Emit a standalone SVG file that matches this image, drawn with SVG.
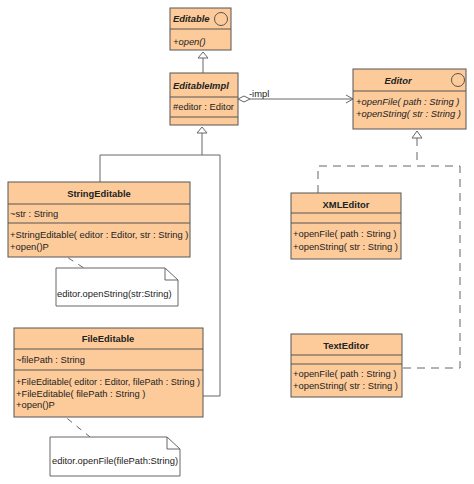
<svg xmlns="http://www.w3.org/2000/svg" width="474" height="484" viewBox="0 0 474 484">
<style>
.box{fill:#FDCB9A;stroke:#555;stroke-width:1}
.div{stroke:#555;stroke-width:1}
.t{font-family:"Liberation Sans",Arial,sans-serif;font-size:9.4px;fill:#222}
.b{font-weight:bold}
.i{font-style:italic}
.c{text-anchor:middle}
.ln{fill:none;stroke:#666;stroke-width:1}
.dl{fill:none;stroke:#666;stroke-width:1;stroke-dasharray:8,6}
.nd{fill:none;stroke:#666;stroke-width:1;stroke-dasharray:6,6}
.note{fill:#fff;stroke:#666;stroke-width:1}
.tri{fill:#fff;stroke:#666;stroke-width:1}
</style>
<rect width="474" height="484" fill="#fff"/>
<g id="connectors">
<polygon class="tri" points="203,52 198,58 208,58"/>
<line class="ln" x1="203" y1="58" x2="203" y2="73"/>
<polygon class="tri" points="202,127 197,133 207,133"/>
<polyline class="ln" points="202,133 202,155"/>
<polyline class="ln" points="100,182 100,155 220,155 220,396 203,396"/>
<polygon class="tri" points="238,99 244,96 250,99 244,102"/>
<line class="ln" x1="250" y1="99" x2="353" y2="99"/>
<polyline class="ln" points="346,95 353,99 346,103"/>
<text class="t" x="249" y="97">-impl</text>
<polygon class="tri" points="417,131 412,138 422,138"/>
<polyline class="dl" points="417,138 417,166"/>
<polyline class="dl" points="318,193 318,166 460,166 460,368 402,368"/>
<line class="nd" x1="48" y1="245" x2="84" y2="268"/>
<line class="nd" x1="58" y1="411" x2="90" y2="437"/>
</g>
<g id="Editable">
<rect class="box" x="170" y="8" width="61" height="42"/>
<line class="div" x1="170" y1="29" x2="231" y2="29"/>
<text class="t b i" x="173" y="22">Editable</text>
<circle cx="221" cy="19" r="6.5" fill="none" stroke="#555"/>
<text class="t i" x="173" y="45">+open()</text>
</g>
<g id="EditableImpl">
<rect class="box" x="170" y="73" width="68" height="52"/>
<line class="div" x1="170" y1="97" x2="238" y2="97"/>
<line class="div" x1="170" y1="117" x2="238" y2="117"/>
<text class="t b i" x="173" y="89">EditableImpl</text>
<text class="t" x="173" y="110">#editor : Editor</text>
</g>
<g id="Editor">
<rect class="box" x="353" y="69" width="113" height="60"/>
<line class="div" x1="353" y1="91" x2="466" y2="91"/>
<text class="t b i c" x="398" y="84">Editor</text>
<circle cx="458" cy="80" r="6.5" fill="none" stroke="#555"/>
<text class="t i" x="356" y="105">+openFile( path : String )</text>
<text class="t i" x="356" y="117">+openString( str : String )</text>
</g>
<g id="StringEditable">
<rect class="box" x="8" y="182" width="182" height="75"/>
<line class="div" x1="8" y1="204" x2="190" y2="204"/>
<line class="div" x1="8" y1="223" x2="190" y2="223"/>
<text class="t b c" x="99" y="197">StringEditable</text>
<text class="t" x="10" y="217">~str : String</text>
<text class="t" x="10" y="238">+StringEditable( editor : Editor, str : String )</text>
<text class="t" x="10" y="250">+open()P</text>
</g>
<g id="note1">
<polygon class="note" points="56,268 165,268 178,280 178,306 56,306"/>
<polyline class="ln" points="165,268 165,280 178,280"/>
<text class="t" x="57" y="297">editor.openString(str:String)</text>
</g>
<g id="FileEditable">
<rect class="box" x="14" y="328" width="189" height="89"/>
<line class="div" x1="14" y1="349" x2="203" y2="349"/>
<line class="div" x1="14" y1="370" x2="203" y2="370"/>
<text class="t b c" x="108" y="342">FileEditable</text>
<text class="t" x="16" y="363">~filePath : String</text>
<text class="t" x="16" y="385" textLength="184" lengthAdjust="spacingAndGlyphs">+FileEditable( editor : Editor, filePath : String )</text>
<text class="t" x="16" y="397">+FileEditable( filePath : String )</text>
<text class="t" x="16" y="408">+open()P</text>
</g>
<g id="note2">
<polygon class="note" points="50,437 167,437 180,449 180,476 50,476"/>
<polyline class="ln" points="167,437 167,449 180,449"/>
<text class="t" x="52" y="464">editor.openFile(filePath:String)</text>
</g>
<g id="XMLEditor">
<rect class="box" x="291" y="193" width="110" height="66"/>
<line class="div" x1="291" y1="213" x2="401" y2="213"/>
<line class="div" x1="291" y1="223" x2="401" y2="223"/>
<text class="t b c" x="346" y="208">XMLEditor</text>
<text class="t" x="293" y="237">+openFile( path : String )</text>
<text class="t" x="293" y="250">+openString( str : String )</text>
</g>
<g id="TextEditor">
<rect class="box" x="291" y="334" width="111" height="63"/>
<line class="div" x1="291" y1="355" x2="402" y2="355"/>
<line class="div" x1="291" y1="364" x2="402" y2="364"/>
<text class="t b c" x="346" y="349">TextEditor</text>
<text class="t" x="293" y="377">+openFile( path : String )</text>
<text class="t" x="293" y="389">+openString( str : String )</text>
</g>
</svg>
